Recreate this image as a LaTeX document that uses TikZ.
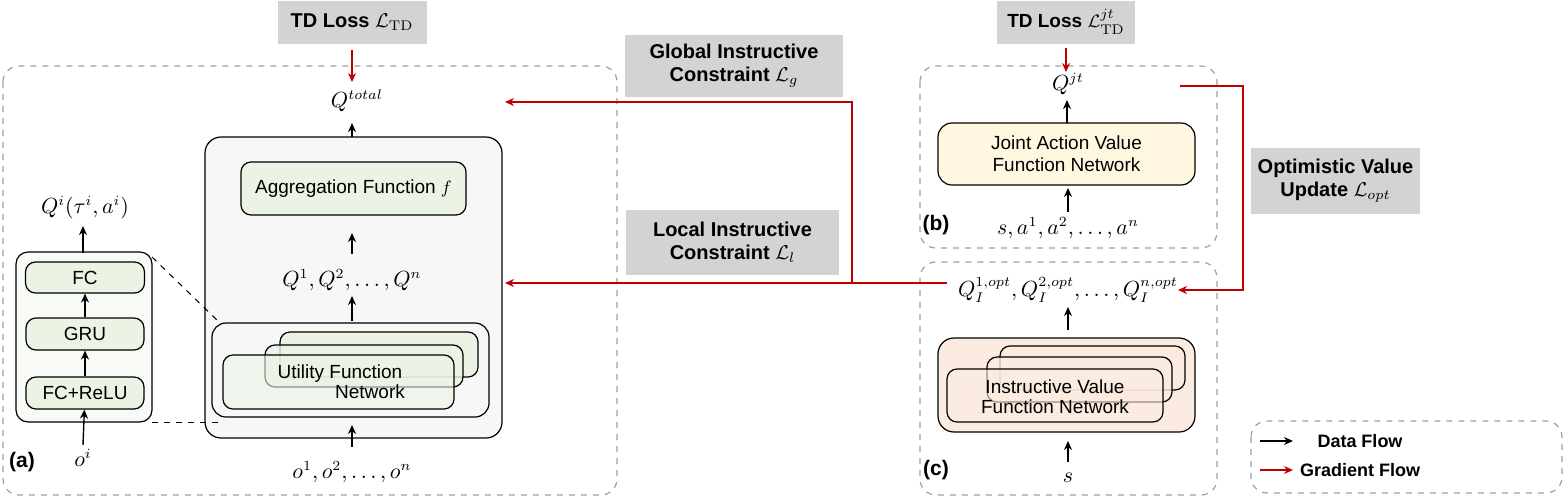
\documentclass[tikz,border=0pt]{standalone}
\usepackage[no-math]{fontspec}
\setmainfont{Liberation Sans}
\usepackage{amsmath}
\usetikzlibrary{arrows.meta}
\definecolor{gbox}{HTML}{D3D3D3}
\definecolor{gfill}{HTML}{EBF3E5}
\definecolor{lgray}{HTML}{F7F7F7}
\definecolor{yfill}{HTML}{FFF7E0}
\definecolor{ofill}{HTML}{FCEBE0}
\definecolor{dred}{HTML}{C00000}
\definecolor{dgray}{HTML}{A0A0A0}
\newcommand{\Lc}{\mathcal{L}}
\begin{document}
\begin{tikzpicture}[x=0.5pt,y=-0.5pt,
  panel/.style={draw=dgray,dashed,rounded corners=8pt,line width=0.6pt},
  box/.style={draw=black,rounded corners=5pt,line width=0.6pt},
  loss/.style={fill=gbox,font=\bfseries\fontsize{10}{11.5}\selectfont,align=center,inner sep=0pt},
  da/.style={-{Stealth[length=4.5pt,width=4pt]},line width=0.7pt},
  ra/.style={-{Stealth[length=4.5pt,width=4pt]},line width=0.7pt,draw=dred},
  rl/.style={line width=0.7pt,draw=dred},
  lbl/.style={font=\fontsize{9.5}{11}\selectfont},
  math/.style={font=\fontsize{10.5}{12}\selectfont,inner sep=1pt},
  tag/.style={font=\bfseries\fontsize{10.5}{12}\selectfont}]
\useasboundingbox (0,0) rectangle (1565,499);
% panels
\draw[panel] (3,66) rectangle (617,495);
\draw[panel] (920,66) rectangle (1217,248);
\draw[panel] (920,262) rectangle (1217,495);
\draw[panel] (1251,421) rectangle (1562,493);
% (a)
\node[loss,minimum width=74.5pt,minimum height=21.5pt] (tdl) at (352,22) {TD Loss $\Lc_{\mathrm{TD}}$};
\node[math] (qt) at (357,101) {$Q^{total}$};
\draw[box,fill=lgray,rounded corners=8pt] (205,137) rectangle (502,438);
\node[box,fill=gfill,minimum width=112.5pt,minimum height=26.5pt,lbl] (agg) at (353.5,188.5) {Aggregation Function $f$};
\node[math] (qs) at (352,280) {$Q^1,Q^2,\dots,Q^n$};
\draw[box,rounded corners=7pt] (212,323) rectangle (489,417);
\draw[box,fill=gfill] (280,332) rectangle (478,377);
\draw[box,fill=gfill,fill opacity=0.8] (265,345) rectangle (463,387);
\draw[box,fill=gfill,fill opacity=0.6] (223,355) rectangle (454,409);
\node[lbl,align=center] (uf) at (340,382) {Utility Function\\[-1pt]\hspace*{30pt}Network};
\node[math] (os) at (352,472) {$o^1,o^2,\dots,o^n$};
\draw[da] (352,137) -- (352,123);
\draw[da] (352,254) -- (352,233);
\draw[da] (352,321) -- (352,296);
\draw[da] (352,447) -- (352,425);
\draw[ra] (352,50) -- (352,82);
% small box
\draw[box,fill=gfill!40,rounded corners=6pt] (16,252) rectangle (152,422);
\node[box,fill=gfill,minimum width=59.5pt,minimum height=15.5pt,lbl] (fc) at (85,277.5) {FC};
\node[box,fill=gfill,minimum width=59pt,minimum height=16pt,lbl] (gru) at (85,334) {GRU};
\node[box,fill=gfill,minimum width=59pt,minimum height=16pt,lbl] (fcr) at (85,393) {FC+ReLU};
\node[math] (qi) at (85,208) {$Q^i(\tau^i,a^i)$};
\node[math] (oi) at (83,458) {$o^i$};
\draw[da] (83,253) -- (83,226);
\draw[da] (gru) -- (fc);
\draw[da] (fcr) -- (gru);
\draw[da] (83,445) -- (fcr);
\draw[dashed,line width=0.5pt] (152,257) -- (220,323);
\draw[dashed,line width=0.5pt] (152,422) -- (223,422);
\node[tag] (ta) at (22,462) {(a)};
% constraints
\node[loss,minimum width=109pt,minimum height=31pt] (glob) at (734,66) {Global Instructive\\Constraint $\Lc_g$};
\node[loss,minimum width=106.5pt,minimum height=32.5pt] (loc) at (732.5,242.5) {Local Instructive\\Constraint $\Lc_l$};
\draw[rl] (947,283) -- (852,283);
\draw[ra] (852,283) -- (852,102) -- (505,102);
\draw[ra] (852,283) -- (505,283);
% (b)
\node[loss,minimum width=69pt,minimum height=21.5pt,font=\bfseries\fontsize{9.5}{11}\selectfont] (tdj) at (1066,22) {TD Loss $\Lc_{\mathrm{TD}}^{jt}$};
\draw[ra] (1066,48) -- (1066,72);
\node[math] (qj) at (1068,84) {$Q^{jt}$};
\node[box,fill=yfill,minimum width=128.5pt,minimum height=31pt,lbl,align=center,rounded corners=7pt] (joint) at (1066.5,154) {Joint Action Value\\Function Network};
\node[math] (sa) at (1068,228) {$s,a^1,a^2,\dots,a^n$};
\draw[da] (1067,123) -- (1067,100);
\draw[da] (1068,212) -- (1068,188);
\node[tag] (tb) at (936,225) {(b)};
% optimistic
\node[loss,minimum width=84.5pt,minimum height=33pt] (opt) at (1335.5,181) {Optimistic Value\\Update $\Lc_{opt}$};
\draw[ra] (1180,86) -- (1243,86) -- (1243,290) -- (1178,290);
% (c)
\node[math] (qo) at (1068,290) {$Q_I^{1,opt},Q_I^{2,opt},\dots,Q_I^{n,opt}$};
\draw[box,fill=ofill,rounded corners=8pt] (938,338) rectangle (1195,432);
\draw[box,fill=ofill] (1000,346) rectangle (1185,390);
\draw[box,fill=ofill,fill opacity=0.8] (987,357) rectangle (1172,402);
\draw[box,fill=ofill,fill opacity=0.6] (947,369) rectangle (1163,422);
\node[lbl,align=center] (ivf) at (1055,397) {Instructive Value\\[-1pt]Function Network};
\node[math] (s) at (1068,478) {$s$};
\draw[da] (1068,330) -- (1068,307);
\draw[da] (1068,462) -- (1068,441);
\node[tag] (tc) at (936,470) {(c)};
% legend
\coordinate (l1a) at (1260,441); \coordinate (l1b) at (1293,441);
\coordinate (l2a) at (1260,470); \coordinate (l2b) at (1293,470);
\draw[da] (l1a) -- (l1b);
\draw[ra] (l2a) -- (l2b);
\node[font=\bfseries\fontsize{9}{10}\selectfont] (df) at (1360,441) {Data Flow};
\node[font=\bfseries\fontsize{9}{10}\selectfont] (gf) at (1360,470) {Gradient Flow};
\end{tikzpicture}
\end{document}
